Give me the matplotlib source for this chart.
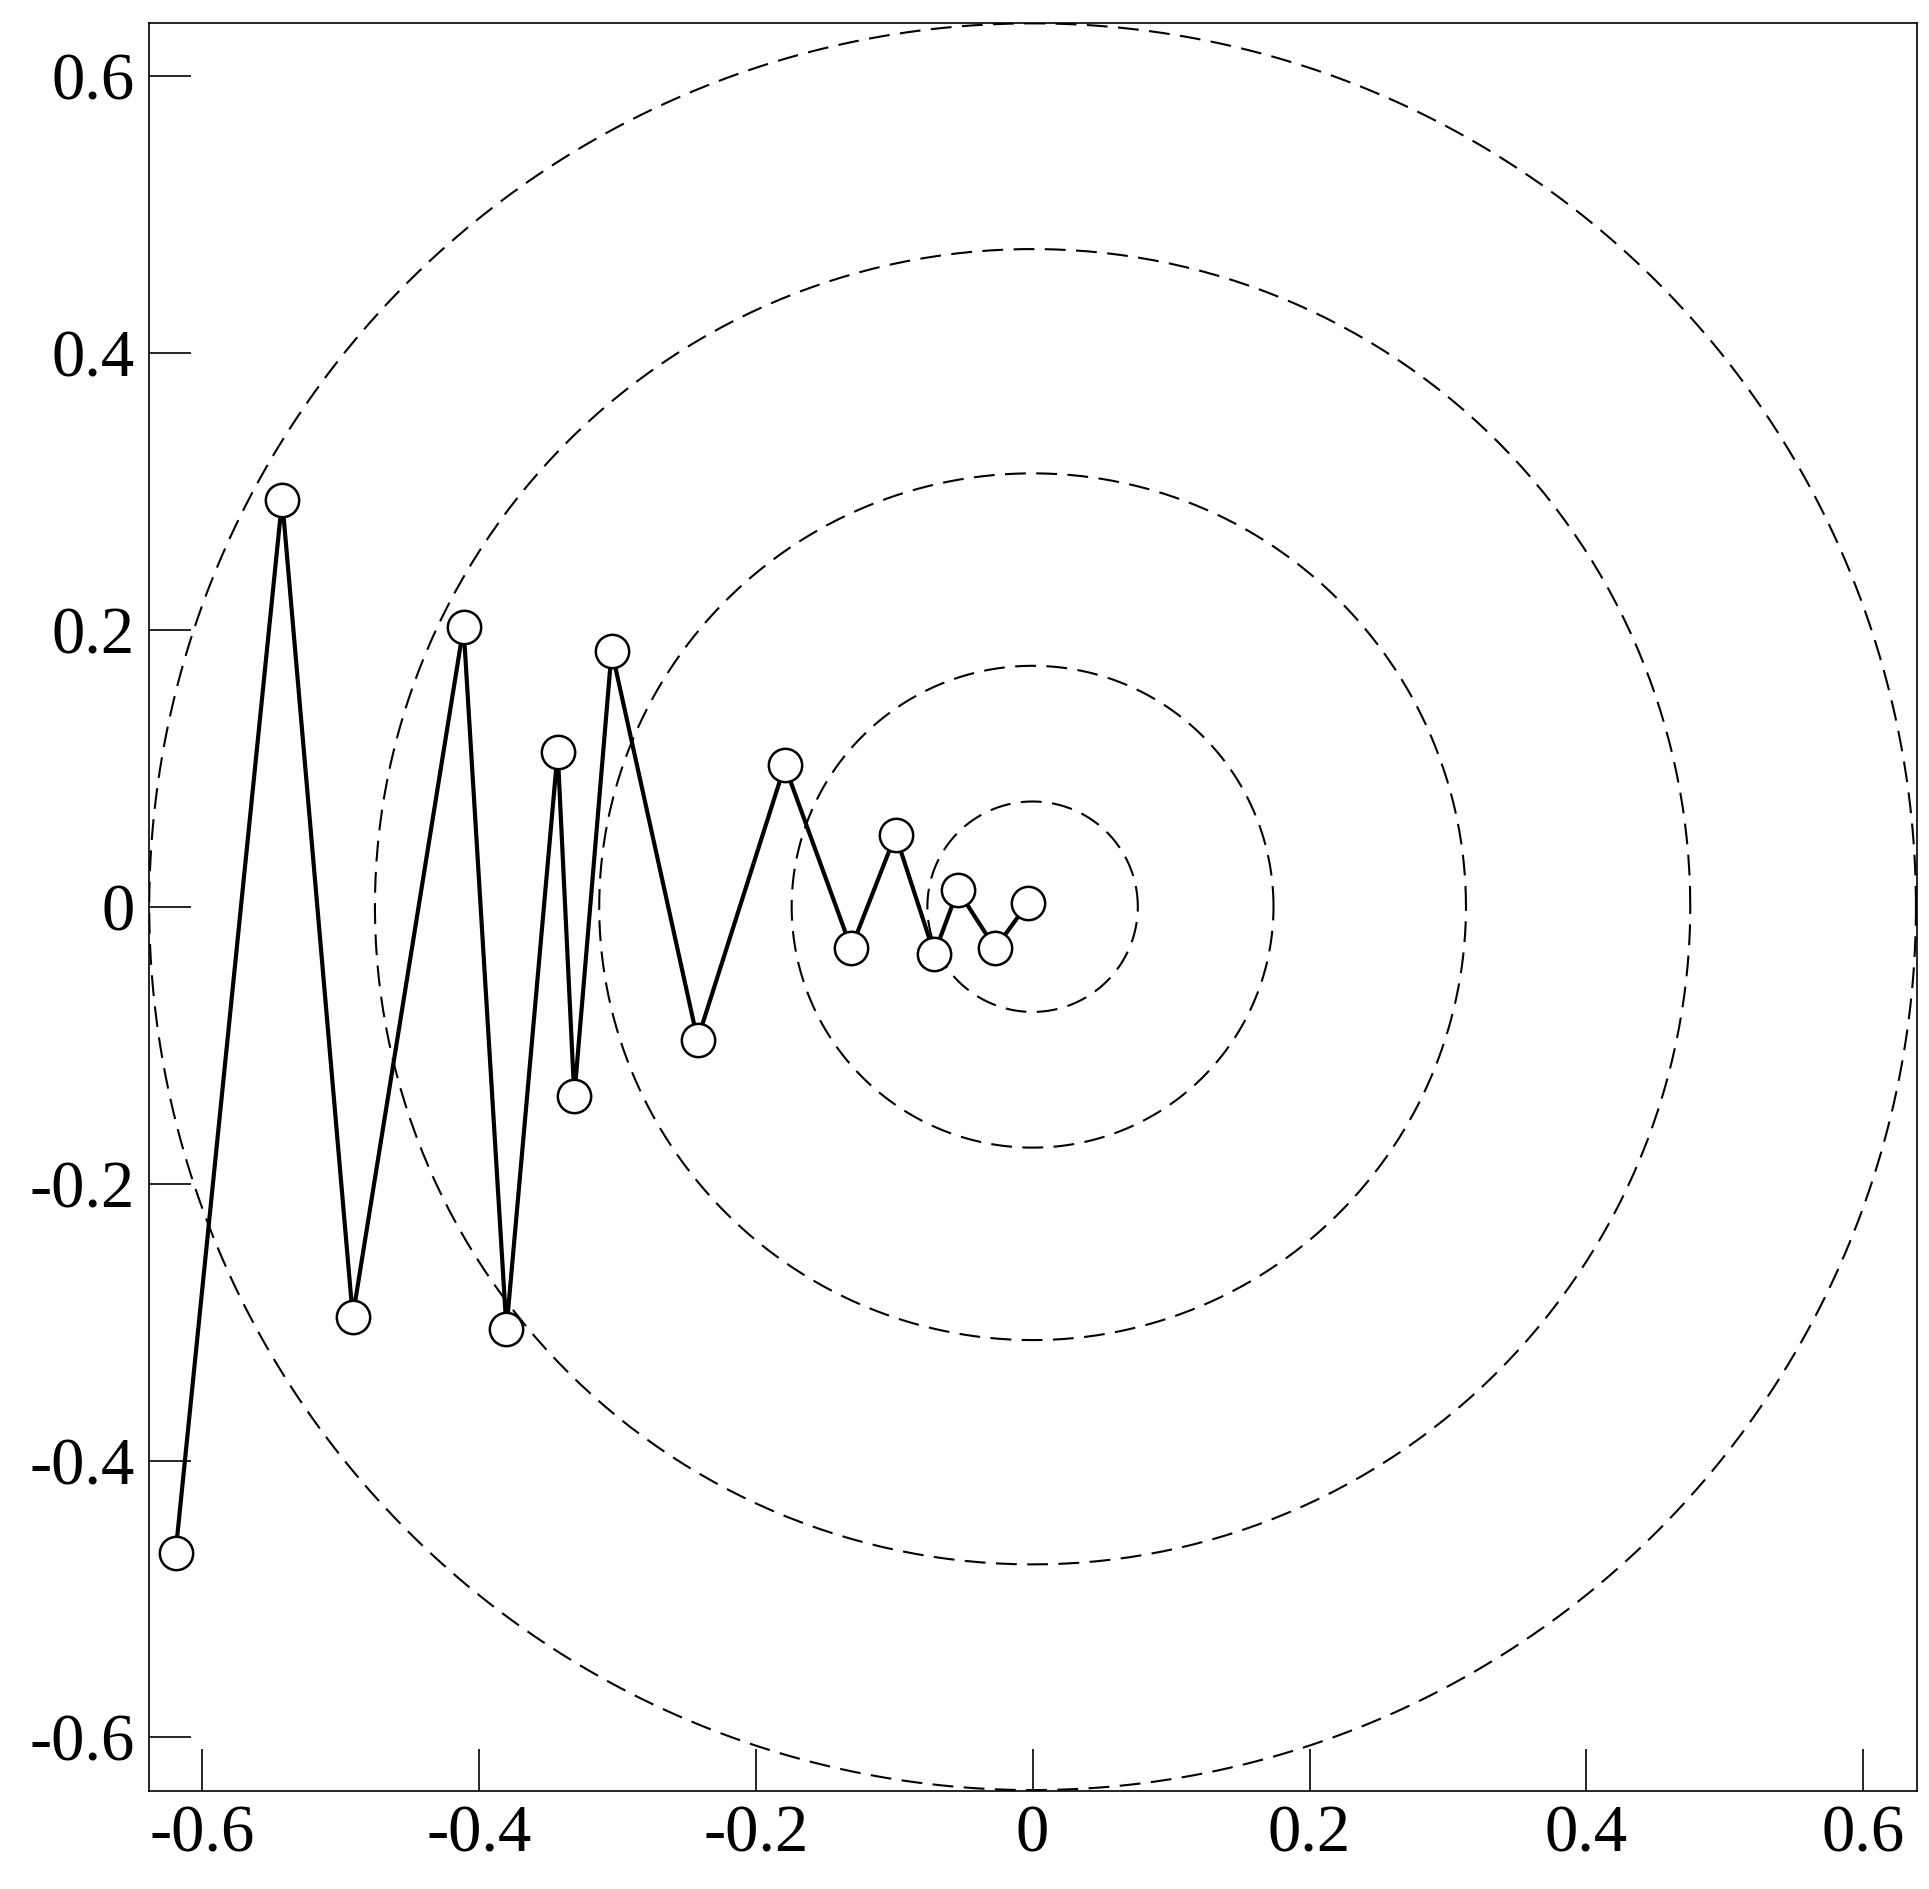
import matplotlib
matplotlib.use("Agg")
import matplotlib.pyplot as plt
import numpy as np

xs = [-0.619, -0.542, -0.491, -0.411, -0.380, -0.343, -0.331, -0.304, -0.242,
      -0.179, -0.131, -0.099, -0.071, -0.054, -0.027, -0.003]
ys = [-0.467, 0.294, -0.296, 0.202, -0.305, 0.112, -0.137, 0.185, -0.096,
      0.102, -0.030, 0.052, -0.034, 0.012, -0.030, 0.003]
radii = [0.638, 0.475, 0.313, 0.174, 0.076]
ticks = [-0.6, -0.4, -0.2, 0, 0.2, 0.4, 0.6]
tick_labels = ["-0.6", "-0.4", "-0.2", "0", "0.2", "0.4", "0.6"]

fig = plt.figure(figsize=(19.29, 18.89), dpi=100)
ax = fig.add_axes([0.077, 0.052, 0.9166, 0.936])
lim = 0.6385
ax.set_xlim(-lim, lim)
ax.set_ylim(-lim, lim)
t = np.linspace(0, 2 * np.pi, 500)
for r in radii:
    ax.plot(r * np.cos(t), r * np.sin(t), color="black", lw=1.5, ls=(0, (10, 5)))
ax.plot(xs, ys, color="black", lw=3.0, zorder=3)
ax.plot(xs, ys, "o", ms=24, mfc="white", mec="black", mew=1.8, ls="none", zorder=4)
ax.set_xticks(ticks)
ax.set_xticklabels(tick_labels)
ax.set_yticks(ticks)
ax.set_yticklabels(tick_labels)
ax.tick_params(direction="in", length=30, width=1.2, labelsize=48, pad=10,
               top=False, right=False)
for lab in ax.get_xticklabels() + ax.get_yticklabels():
    lab.set_family("Liberation Serif")
for s in ax.spines.values():
    s.set_linewidth(1.2)
fig.savefig("out.png", dpi=100)
